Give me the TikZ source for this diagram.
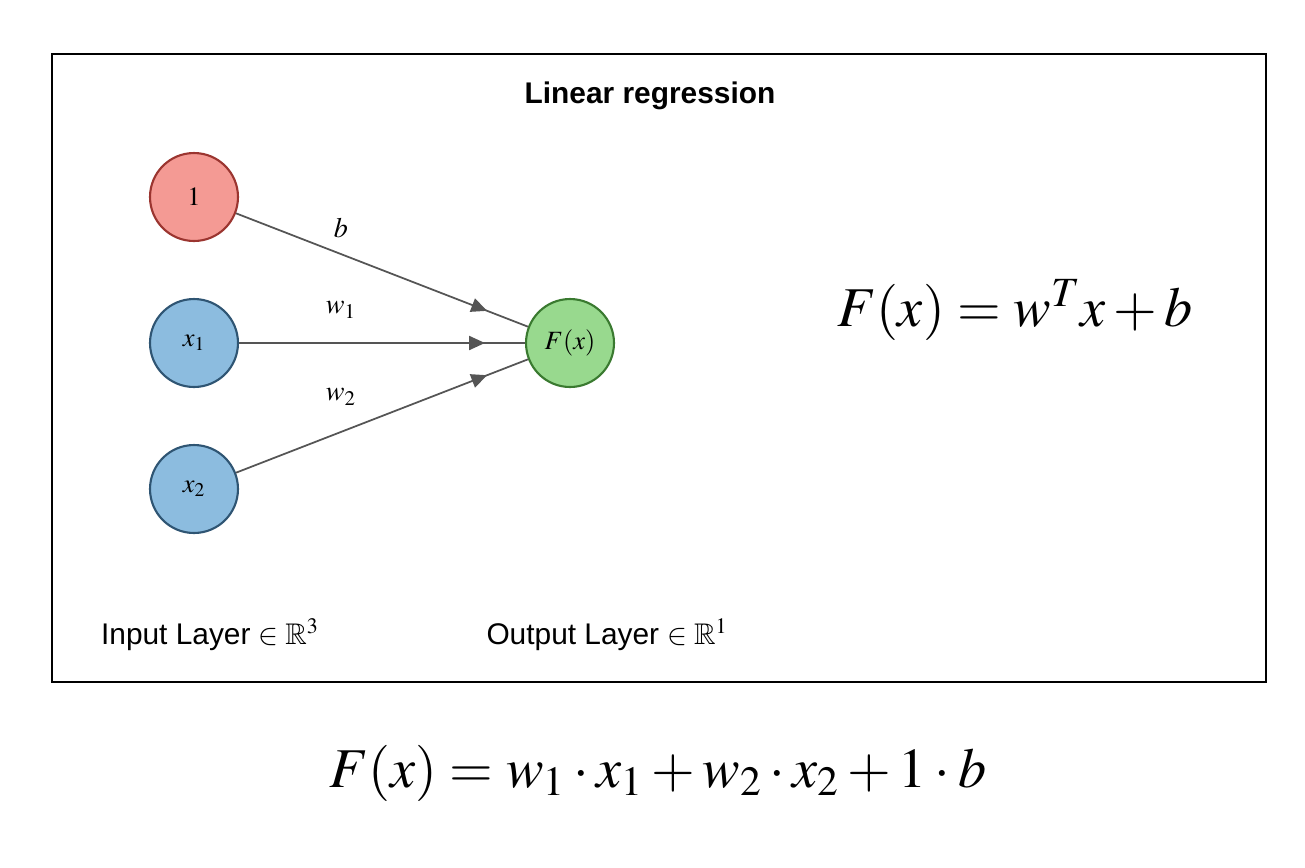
\documentclass[tikz,border=0pt]{standalone}
\usepackage{amssymb}
\usepackage{mathptmx}
\usepackage{fontspec}
\setmainfont{Liberation Sans}
\usetikzlibrary{decorations.markings,arrows.meta}
\definecolor{redfill}{HTML}{F49A94}
\definecolor{redline}{HTML}{9B3530}
\definecolor{bluefill}{HTML}{8CBCDF}
\definecolor{blueline}{HTML}{2F5573}
\definecolor{greenfill}{HTML}{98D98E}
\definecolor{greenline}{HTML}{3A7A30}
\definecolor{edgegray}{HTML}{555555}
\begin{document}
\begin{tikzpicture}[x=0.02cm,y=-0.02cm,
  neuron/.style={circle, minimum size=1.76cm, inner sep=0pt, line width=1.2pt, font=\fontsize{15}{18}\selectfont},
  conn/.style={draw=edgegray, line width=1pt, postaction={decorate},
    decoration={markings, mark=at position #1 with {\arrow{Triangle[length=9pt,width=8pt]}}}},
  wlabel/.style={font=\fontsize{16}{19}\selectfont},
  layer/.style={font=\fontsize{17}{20}\selectfont}]
\useasboundingbox (0,0) rectangle (1305,867);
\draw[line width=1.2pt] (52,54) rectangle (1266,682);
\node[font=\bfseries\fontsize{17}{20}\selectfont] (title) at (650,96) {Linear regression};
\node[neuron, fill=redfill, draw=redline] (one) at (194,197) {$1$};
\node[neuron, fill=bluefill, draw=blueline] (x1) at (194,343) {$x_1$};
\node[neuron, fill=bluefill, draw=blueline] (x2) at (194,489) {$x_2$};
\node[neuron, fill=greenfill, draw=greenline] (F) at (570,343) {$F(x)$};
\draw[conn=0.86] (one) -- (F);
\draw[conn=0.86] (x1) -- (F);
\draw[conn=0.86] (x2) -- (F);
\node[wlabel] (lb) at (341,228) {$b$};
\node[wlabel] (lw1) at (341,310) {$w_1$};
\node[wlabel] (lw2) at (341,397) {$w_2$};
\node[font=\fontsize{32}{38}\selectfont] (eq1) at (1015,310) {$F(x) = w^T x + b$};
\node[layer] (inl) at (210,635) {Input Layer $\in\mathbb{R}^3$};
\node[layer] (outl) at (607,635) {Output Layer $\in\mathbb{R}^1$};
\node[font=\fontsize{32}{38}\selectfont] (eq2) at (658,773) {$F(x) = w_1\cdot x_1 + w_2\cdot x_2 + 1\cdot b$};
\end{tikzpicture}
\end{document}
